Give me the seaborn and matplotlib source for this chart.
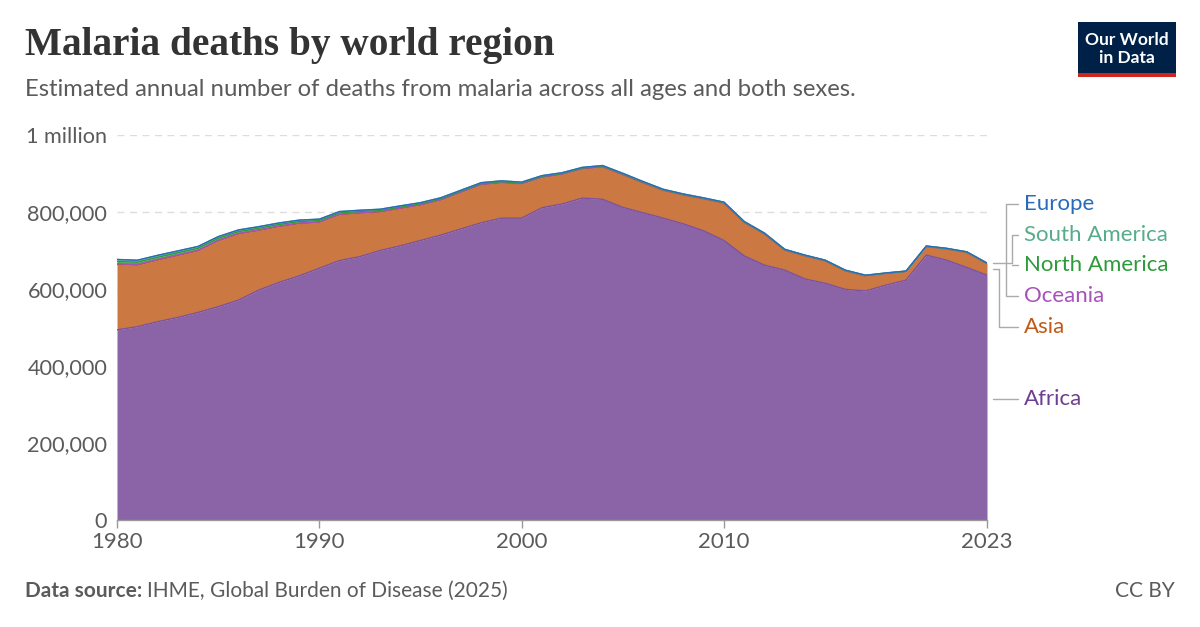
import numpy as np
import pandas as pd
import matplotlib
matplotlib.use("Agg")
import matplotlib.pyplot as plt
import seaborn as sns
from matplotlib.patches import Rectangle
from matplotlib.lines import Line2D

# ---------------- data (deaths, thousands) ----------------
years = list(range(1980, 2024))
africa = [494, 502, 515, 526, 539, 554, 571, 597, 617, 634,
          654, 674, 684, 700, 712, 726, 740, 756, 772, 784,
          784, 811, 821, 836, 833, 812, 798, 784, 769, 751,
          726, 686, 662, 649, 626, 615, 599, 595, 610, 623,
          688, 675, 656, 636]
asia = [170, 160, 160, 161, 160, 171, 172, 155, 145, 136,
        119, 119, 113, 100, 97, 92, 91, 95, 99, 92,
        89, 79, 77, 76, 84, 85, 78, 72, 75, 83,
        97, 87, 81, 52, 60, 58, 48, 39, 30, 22,
        22, 29, 39, 30]
oceania = [1.6, 1.6, 1.6, 1.5, 1.5, 1.5, 1.4, 1.4, 1.4, 1.3,
           1.3, 1.3, 1.2, 1.2, 1.2, 1.1, 1.1, 1.1, 1.0, 1.0,
           1.0, 1.0, 0.9, 0.9, 0.9, 0.9, 0.8, 0.8, 0.8, 0.8,
           0.8, 0.7, 0.7, 0.7, 0.7, 0.7, 0.7, 0.6, 0.6, 0.6,
           0.6, 0.6, 0.6, 0.6]
north_america = [6.0, 5.9, 5.7, 5.5, 5.2, 4.9, 4.6, 4.3, 4.1, 3.8,
                 3.6, 3.4, 3.1, 2.9, 2.7, 2.5, 2.3, 2.1, 2.0, 1.8,
                 1.7, 1.6, 1.5, 1.4, 1.3, 1.2, 1.1, 1.0, 0.9, 0.9,
                 0.8, 0.8, 0.7, 0.7, 0.6, 0.6, 0.6, 0.5, 0.5, 0.5,
                 0.5, 0.5, 0.4, 0.4]
south_america = [5.0, 5.0, 4.9, 4.7, 4.6, 4.4, 4.2, 4.0, 3.8, 3.6,
                 3.4, 3.3, 3.1, 2.9, 2.8, 2.6, 2.4, 2.3, 2.1, 2.0,
                 1.8, 1.7, 1.6, 1.5, 1.4, 1.3, 1.2, 1.1, 1.0, 0.9,
                 0.9, 0.8, 0.8, 0.7, 0.7, 0.6, 0.6, 0.6, 0.5, 0.5,
                 0.5, 0.5, 0.5, 0.4]
europe = [0.2, 0.2, 0.2, 0.2, 0.2, 0.2, 0.2, 0.2, 0.2, 0.2,
          0.2, 0.2, 0.2, 0.2, 0.2, 0.1, 0.1, 0.1, 0.1, 0.1,
          0.1, 0.1, 0.1, 0.1, 0.1, 0.1, 0.1, 0.1, 0.1, 0.1,
          0.1, 0.1, 0.1, 0.1, 0.1, 0.1, 0.1, 0.1, 0.1, 0.1,
          0.1, 0.1, 0.1, 0.1]

regions = ["Africa", "Asia", "Oceania", "North America", "South America", "Europe"]
series = [africa, asia, oceania, north_america, south_america, europe]
fill_colors = ["#8A64A6", "#CC7843", "#B373C6", "#4FAE5A", "#6EBB9F", "#4F86C8"]
line_colors = ["#7A52A0", "#C05917", "#A652BA", "#2E9A3A", "#58AC8C", "#286BBB"]
label_colors = ["#6D3E91", "#C05917", "#A652BA", "#2E9A3A", "#58AC8C", "#286BBB"]

xticks = [1980, 1990, 2000, 2010, 2023]
yticks = [0, 200000, 400000, 600000, 800000, 1000000]
ytick_labels = ["0", "200,000", "400,000", "600,000", "800,000", "1 million"]

# ---------------- style ----------------
sns.set_theme(style="white")
plt.rcParams["font.family"] = ["Lato", "DejaVu Sans"]

W, H = 1200, 627
fig = plt.figure(figsize=(W / 100, H / 100), dpi=100)
fig.patch.set_facecolor("white")

ax = fig.add_axes([117 / W, 1 - 520 / H, 870 / W, 385 / H])

lower = np.zeros(len(years))
for name, vals, fc, lc in zip(regions, series, fill_colors, line_colors):
    v = np.array(vals, dtype=float) * 1000
    upper = lower + v
    ax.fill_between(years, lower, upper, color=fc, linewidth=0, zorder=2)
    tmp = pd.DataFrame({"year": years, "top": upper, "region": name})
    sns.lineplot(data=tmp, x="year", y="top", color=lc, linewidth=1.0,
                 ax=ax, zorder=3, legend=False)
    lower = upper

ax.set_xlim(1980, 2023)
ax.set_ylim(0, 1000000)
ax.set_xlabel("")
ax.set_ylabel("")
for s in ["top", "right", "left"]:
    ax.spines[s].set_visible(False)
ax.spines["bottom"].set_color("#999999")
ax.spines["bottom"].set_linewidth(1)

ax.set_yticks(yticks)
ax.set_yticklabels(ytick_labels)
ax.set_xticks(xticks)
ax.set_xticklabels([str(x) for x in xticks])
ax.tick_params(axis="y", length=0, pad=7, labelsize=15.6, labelcolor="#5b5b5b")
ax.tick_params(axis="x", length=6, width=1, color="#999999", pad=3,
               labelsize=16, labelcolor="#5b5b5b", direction="out", bottom=True)
for y in yticks[1:]:
    ax.axhline(y, color="#dddddd", linewidth=1, linestyle=(0, (5, 4)), zorder=1)
ax.grid(False)

# ---------------- overlay in pixel coordinates ----------------
ov = fig.add_axes([0, 0, 1, 1], zorder=10)
ov.set_xlim(0, W)
ov.set_ylim(H, 0)
ov.axis("off")
ov.patch.set_alpha(0)

ov.text(25, 46, "Malaria deaths by world region", fontsize=28.3, fontweight="bold",
        family=["Liberation Serif", "DejaVu Serif"], color="#333333", va="center", ha="left")
ov.text(25, 89, "Estimated annual number of deaths from malaria across all ages and both sexes.",
        fontsize=17.2, color="#5b5b5b", va="center", ha="left")

# logo
ov.add_patch(Rectangle((1078, 22), 98, 55, facecolor="#002147", edgecolor="none"))
ov.add_patch(Rectangle((1078, 73), 98, 4, facecolor="#CE261E", edgecolor="none"))
ov.text(1127, 40, "Our World", fontsize=12.5, color="white", ha="center", va="center",
        fontweight="bold", family=["Lato", "DejaVu Sans"])
ov.text(1127, 58, "in Data", fontsize=12.5, color="white", ha="center", va="center",
        fontweight="bold", family=["Lato", "DejaVu Sans"])

# footer
t1 = ov.text(25, 591, "Data source:", fontsize=15, fontweight="bold", color="#5b5b5b",
             va="center", ha="left")
fig.canvas.draw()
bb = t1.get_window_extent()
x_end = bb.x1
ov.text(x_end + 5, 591, "IHME, Global Burden of Disease (2025)", fontsize=15,
        color="#5b5b5b", va="center", ha="left")
ov.text(1175, 591, "CC BY", fontsize=15, color="#5b5b5b", va="center", ha="right")

# series labels
label_y = {"Europe": 204, "South America": 235, "North America": 265,
           "Oceania": 296, "Asia": 327, "Africa": 399}
for name, col in zip(regions, label_colors):
    ov.text(1024, label_y[name], name, fontsize=16, color=col, va="center", ha="left")

gray = "#aaaaaa"
segments = [
    [(993, 399), (1018, 399)],
    [(993, 269), (999, 269), (999, 327), (1018, 327)],
    [(993, 263), (1012, 263)],
    [(1006, 263), (1006, 204), (1018, 204)],
    [(1012, 263), (1012, 235), (1018, 235)],
    [(1012, 265), (1018, 265)],
    [(1006, 263), (1006, 296), (1018, 296)],
]
for seg in segments:
    xs, ys = zip(*seg)
    ov.add_line(Line2D(xs, ys, color=gray, linewidth=1))

fig.savefig("out.png", dpi=100)
